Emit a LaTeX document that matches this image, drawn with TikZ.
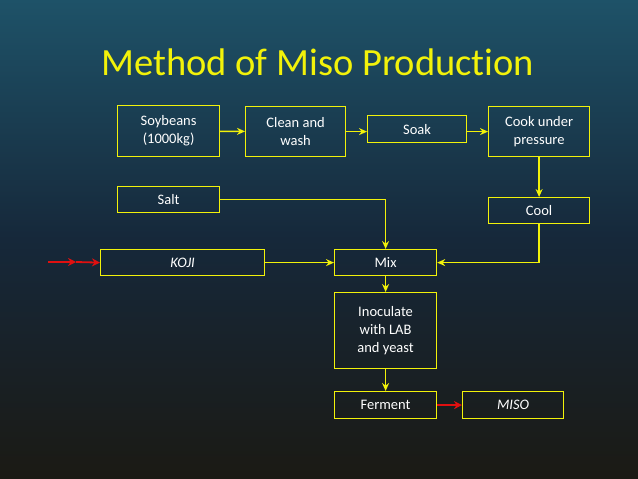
\documentclass[tikz,border=0pt]{standalone}
\usepackage{fontspec}
\setmainfont[Ligatures=NoCommon]{Carlito}
\usetikzlibrary{arrows.meta}
\definecolor{boxy}{HTML}{F2F20A}
\definecolor{arr}{HTML}{E01010}
\begin{document}
\begin{tikzpicture}[x=1pt,y=-1pt,
 box/.style={draw=boxy,line width=1.2pt,text=white,font=\fontsize{14.5}{18}\selectfont,align=center,inner sep=0pt,anchor=north west},
 ya/.style={draw=boxy,line width=1.6pt,-{Stealth[length=8pt,width=7pt]}},
 ra/.style={draw=arr,line width=1.8pt,-{Stealth[length=8pt,width=8pt]}}]
\shade[top color={rgb,255:red,30;green,82;blue,104},bottom color={rgb,255:red,27;green,26;blue,20},middle color={rgb,255:red,22;green,40;blue,58}] (0,0) rectangle (638,479);
\useasboundingbox (0,0) rectangle (638,479);
\node[text=boxy,font=\fontsize{38.5}{42}\selectfont,anchor=west] (title) at (98,62) {Method of Miso Production};
\node[box,minimum width=102pt,minimum height=51pt] (soy) at (117,105) {Soybeans\\(1000kg)};
\node[box,minimum width=100pt,minimum height=50pt] (clean) at (245,106) {Clean and\\wash};
\node[box,minimum width=99pt,minimum height=27pt] (soak) at (367,115) {Soak};
\node[box,minimum width=101pt,minimum height=50pt] (cook) at (488,106) {Cook under\\pressure};
\node[box,minimum width=102pt,minimum height=26pt] (salt) at (117,186) {Salt};
\node[box,minimum width=101pt,minimum height=26pt] (cool) at (488,197) {Cool};
\node[box,minimum width=164pt,minimum height=26pt,font=\fontsize{14.5}{18}\selectfont\itshape] (koji) at (100,249) {KOJI};
\node[box,minimum width=102pt,minimum height=26pt] (mix) at (334,249) {Mix};
\node[box,minimum width=102pt,minimum height=76pt] (inoc) at (334,292) {Inoculate\\with LAB\\and yeast};
\node[box,minimum width=102pt,minimum height=27pt] (ferm) at (334,391) {Ferment};
\node[box,minimum width=101pt,minimum height=27pt,font=\fontsize{14.5}{18}\selectfont\itshape] (miso) at (462,391) {MISO};
\coordinate (kin) at (48,262);
\coordinate (kmid) at (76,262);
\draw[ya] (soy) -- (clean);
\draw[ya] (clean.east) -- (soak.west|-clean.east);
\draw[ya] (soak.east|-cook.west) -- (cook.west);
\draw[ya] (cook) -- (cool);
\draw[ya] (salt.east) -| (mix.north);
\draw[ya] (cool.south) |- (mix.east);
\draw[ya] (koji) -- (mix);
\draw[ya] (mix) -- (inoc);
\draw[ya] (inoc) -- (ferm);
\draw[ra] (ferm) -- (miso);
\draw[ra] (kin) -- (kmid);
\draw[ra] (kmid) -- (koji.west);
\end{tikzpicture}
\end{document}
